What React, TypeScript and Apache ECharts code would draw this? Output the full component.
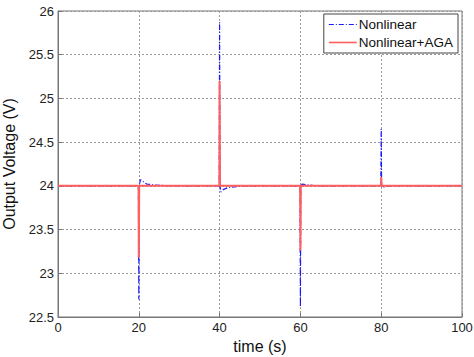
import React, { useEffect, useRef } from "react";
import * as echarts from "echarts";

const nonlinearTime = [0, 19.9, 20, 20.1, 20.4, 21, 22, 24, 28, 39.9, 40, 40.1, 40.3, 41, 42, 44, 46, 59.9, 60, 60.1, 60.4, 62, 64, 79.9, 80, 80.1, 80.3, 81, 82, 100];
const nonlinearVolt = [24, 24, 22.7, 24.0, 24.07, 24.05, 24.02, 24.01, 24.0, 24, 25.87, 24, 23.93, 23.96, 23.98, 23.99, 24, 24, 22.62, 24, 24.02, 24.01, 24.0, 24, 24.65, 24, 23.98, 23.99, 24, 24];

const agaTime = [0, 19.95, 20, 20.1, 39.95, 40, 40.1, 59.95, 60, 60.1, 79.95, 80, 80.1, 100];
const agaVolt = [24, 24, 23.18, 24, 24, 25.2, 24, 24, 23.26, 24, 24, 24.1, 24, 24];

const xTicks = [0, 20, 40, 60, 80, 100];
const yMin = 22.5;
const yMax = 26;
const yStep = 0.5;

export default function App() {
  const ref = useRef<HTMLDivElement>(null);
  useEffect(() => {
    if (!ref.current) return;
    const chart = echarts.init(ref.current, undefined, { renderer: "svg" });
    const font = "Liberation Sans, Arial, sans-serif";
    const gridLine = { show: true, lineStyle: { color: "#999", type: [2, 2] as any, width: 1 } };
    chart.setOption({
      animation: false,
      backgroundColor: "#fff",
      grid: {
        left: 58, right: 12, top: 11, bottom: 40,
        containLabel: false, outerBoundsMode: "none",
        show: true, borderColor: "#777", borderWidth: 1, backgroundColor: "transparent",
      },
      legend: {
        orient: "vertical",
        right: 16,
        top: 14,
        data: [
          { name: "Nonlinear", icon: "path://M0,0h5v1h-5z M7,0h1v1h-1z M10,0h5v1h-5z M17,0h1v1h-1z M20,0h5v1h-5z M27,0h1v1h-1z" },
          { name: "Nonlinear+AGA", icon: "path://M0,0h28v1.6h-28z" },
        ],
        backgroundColor: "#fff",
        borderColor: "#444",
        borderWidth: 1,
        borderRadius: 0,
        padding: [3, 5, 3, 5],
        itemGap: 3,
        itemWidth: 28,
        itemHeight: 2,
        textStyle: { fontFamily: font, fontSize: 13.5, color: "#111", padding: [0, 0, 0, -3], lineHeight: 15 },
      },
      xAxis: {
        type: "value",
        min: xTicks[0],
        max: xTicks[xTicks.length - 1],
        interval: 20,
        name: "time (s)",
        nameLocation: "middle",
        nameGap: 21,
        nameTextStyle: { fontFamily: font, fontSize: 16, color: "#111" },
        axisLine: { show: true, lineStyle: { color: "#777" } },
        axisTick: { show: true, inside: true, length: 4, lineStyle: { color: "#777" } },
        axisLabel: { fontFamily: font, fontSize: 13, color: "#222", margin: 4 },
        splitLine: gridLine,
      },
      yAxis: {
        type: "value",
        min: yMin,
        max: yMax,
        interval: yStep,
        name: "Output Voltage (V)",
        nameLocation: "middle",
        nameGap: 34,
        nameTextStyle: { fontFamily: font, fontSize: 16, color: "#111" },
        axisLine: { show: true, lineStyle: { color: "#777" } },
        axisTick: { show: true, inside: true, length: 4, lineStyle: { color: "#777" } },
        axisLabel: { fontFamily: font, fontSize: 13, color: "#222", margin: 4 },
        splitLine: gridLine,
      },
      series: [
        {
          name: "Nonlinear",
          type: "line",
          symbol: "none",
          z: 2,
          data: nonlinearTime.map((t, i) => [t, nonlinearVolt[i]]),
          lineStyle: { color: "#1a1aff", width: 1.2, type: [5, 2, 1, 2] as any },
          itemStyle: { color: "#1a1aff" },
        },
        {
          name: "Nonlinear+AGA",
          type: "line",
          symbol: "none",
          z: 3,
          data: agaTime.map((t, i) => [t, agaVolt[i]]),
          lineStyle: { color: "#ff5f5f", width: 2 },
          itemStyle: { color: "#ff5f5f" },
        },
      ],
    });
    return () => chart.dispose();
  }, []);
  return <div ref={ref} style={{ width: 474, height: 357, position: "absolute", left: 0, top: 0 }} />;
}
